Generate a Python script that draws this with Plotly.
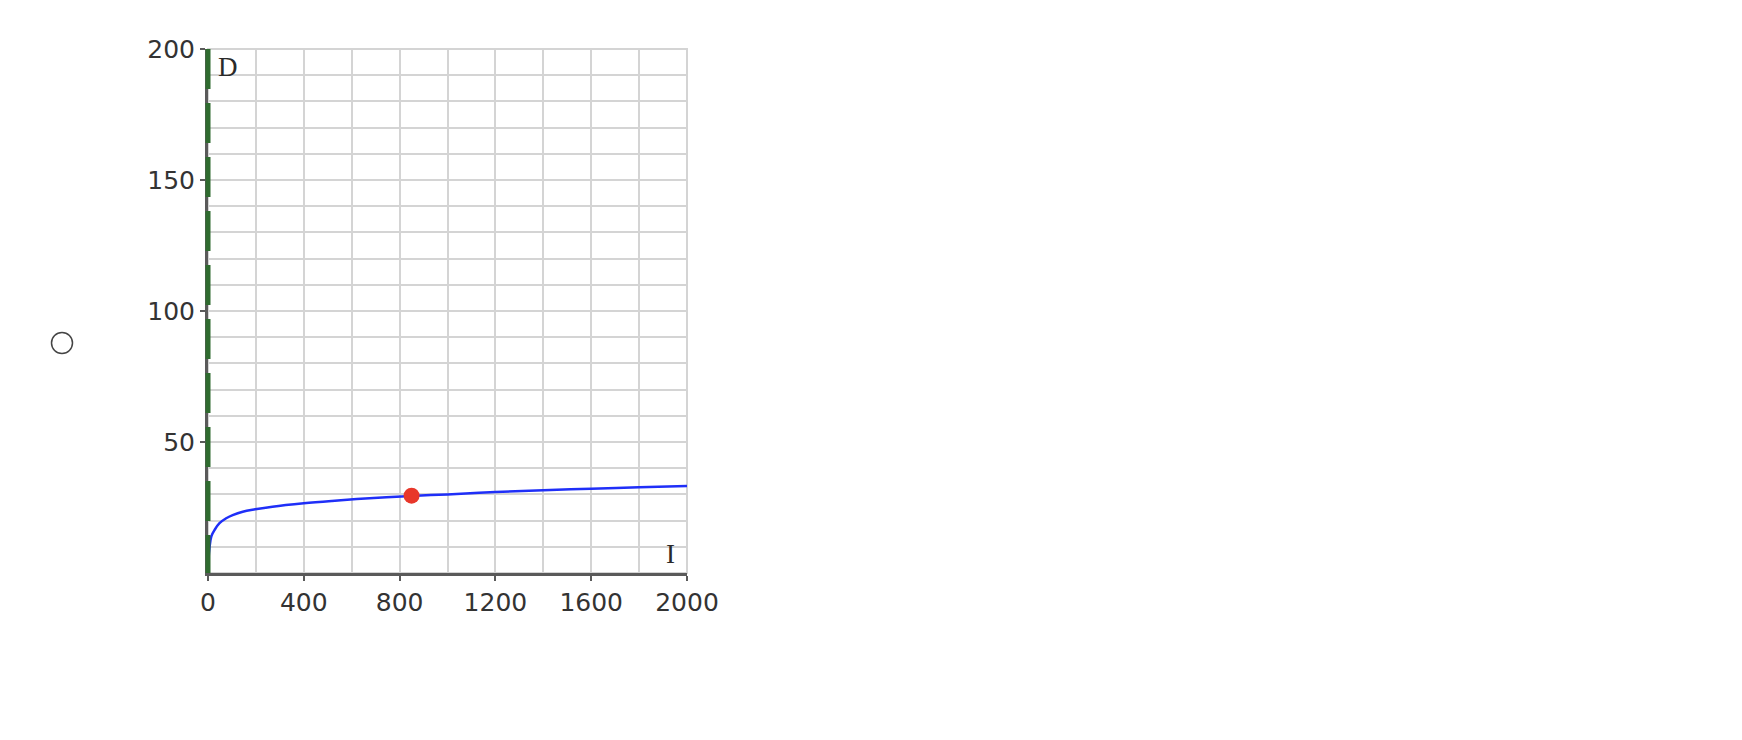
import plotly.graph_objects as go

# curve D(I)
curve_i = [0, 2, 7, 14, 28, 48, 76, 103, 145, 197, 269, 400, 517, 621, 850,
           1000, 1200, 1400, 1600, 1800, 2000]
curve_d = [0, 5, 10.2, 14, 16.5, 19, 20.9, 22.1, 23.4, 24.3, 25.3, 26.6, 27.5, 28.2, 29.4,
           30.0, 30.9, 31.6, 32.2, 32.7, 33.2]

# highlighted point
point_i = [850]
point_d = [29.5]

# dashed guide along the D axis (runs from top to bottom)
guide_d = [200, 0]

x_ticks = [0, 400, 800, 1200, 1600, 2000]
y_ticks = [50, 100, 150, 200]

fig = go.Figure()

fig.add_trace(go.Scatter(
    x=curve_i, y=curve_d, mode='lines',
    line=dict(color='#1f2ff8', width=2.5, shape='spline', smoothing=1.0),
    showlegend=False
))

fig.add_trace(go.Scatter(
    x=point_i, y=point_d, mode='markers',
    marker=dict(color='#e8372a', size=16),
    showlegend=False
))

axis_font = dict(family='DejaVu Sans', size=25, color='#333333')

fig.update_xaxes(
    range=[0, 2000], tickvals=x_ticks, ticktext=[str(v) for v in x_ticks],
    showline=True, linecolor='#5a5a5a', linewidth=3, layer='below traces',
    ticks='outside', ticklen=5, tickwidth=2, tickcolor='#5a5a5a',
    showgrid=True, gridcolor='#d4d4d4', gridwidth=2,
    minor=dict(dtick=200, showgrid=True, gridcolor='#d4d4d4', gridwidth=2),
    zeroline=False, tickfont=axis_font, fixedrange=True
)
fig.update_yaxes(
    range=[0, 200], tickvals=y_ticks, ticktext=[str(v) for v in y_ticks],
    showline=True, linecolor='#5a5a5a', linewidth=3, layer='below traces',
    ticks='outside', ticklen=5, tickwidth=2, tickcolor='#5a5a5a',
    showgrid=True, gridcolor='#d4d4d4', gridwidth=2,
    minor=dict(dtick=10, showgrid=True, gridcolor='#d4d4d4', gridwidth=2),
    zeroline=False, tickfont=axis_font, fixedrange=True
)

# outer grid border (top and right edges)
fig.add_shape(type='rect', xref='paper', yref='paper', x0=0, x1=1, y0=0, y1=1,
              line=dict(color='#d4d4d4', width=2), layer='below')

# green dashed guide on the D axis; paper x so it is not clipped in half
fig.add_shape(type='line', xref='paper', yref='y', x0=0, x1=0,
              y0=guide_d[0], y1=guide_d[1],
              line=dict(color='#2f6b2f', width=5, dash='40px,14px'))

# axis names inside the plot
fig.add_annotation(x=0, y=200, xref='x', yref='y', text='D', showarrow=False,
                   xanchor='left', yanchor='top', xshift=8, yshift=-1,
                   font=dict(family='Liberation Serif', size=27, color='#2a2a2a'))
fig.add_annotation(x=2000, y=0, xref='x', yref='y', text='I', showarrow=False,
                   xanchor='right', yanchor='bottom', xshift=-10, yshift=2,
                   font=dict(family='Liberation Serif', size=27, color='#2a2a2a'))

# radio-button like circle on the left
fig.add_shape(type='circle', xref='paper', yref='paper',
              xsizemode='pixel', ysizemode='pixel',
              xanchor=-0.3048, yanchor=0.4389,
              x0=-10.5, x1=10.5, y0=-10.5, y1=10.5,
              line=dict(color='#444444', width=1.5), fillcolor='white')

fig.update_layout(
    width=1726, height=724,
    margin=dict(l=200, r=1047, t=41, b=159),
    plot_bgcolor='white', paper_bgcolor='white',
)

fig.write_html("out.html")
